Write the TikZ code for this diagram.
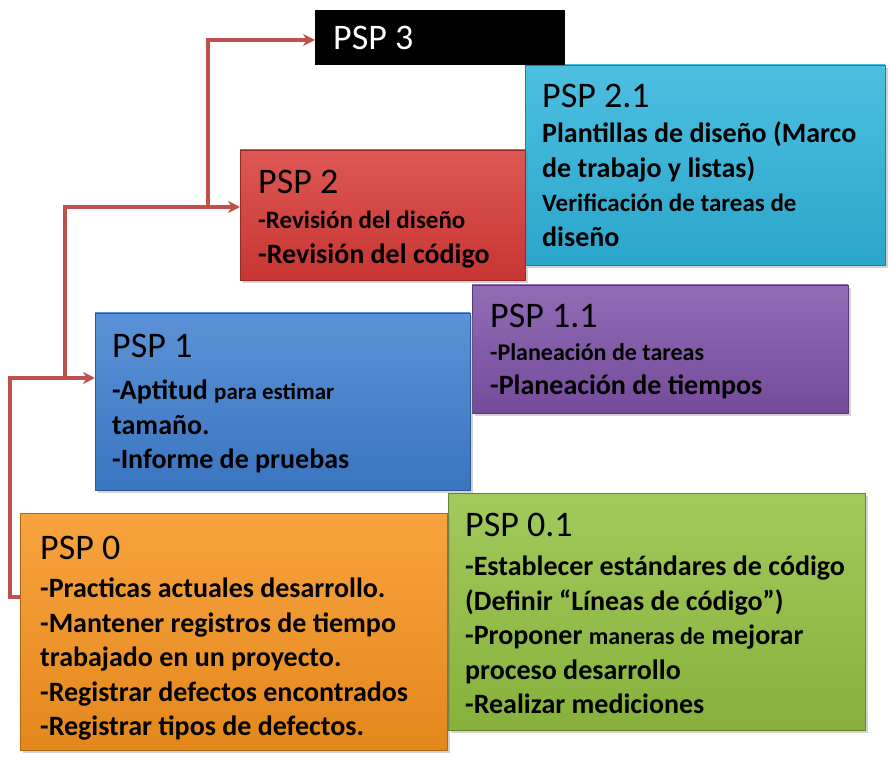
\documentclass[tikz,border=0pt]{standalone}
\usepackage{fontspec}
\setmainfont{Carlito}
\usetikzlibrary{arrows.meta,shadows}
\definecolor{cOr}{HTML}{F7931E}
\definecolor{cGr}{HTML}{92C040}
\definecolor{cBl}{HTML}{3F7FD0}
\definecolor{cPu}{HTML}{7E52A8}
\definecolor{cRe}{HTML}{D83A36}
\definecolor{cCy}{HTML}{2EB4DC}
\definecolor{cLn}{HTML}{C0504D}
\tikzset{
  box/.style={draw=#1!70!black, line width=0.6pt, top color=#1!85!white, bottom color=#1!92!black, drop shadow={shadow xshift=3pt,shadow yshift=-3pt,opacity=0.35}},
  ttl/.style={anchor=north west, text=black, font=\fontsize{36}{36}\selectfont, inner sep=0},
  bod/.style={anchor=north west, text=black, font=\bfseries\fontsize{28}{34.5}\selectfont, align=left, inner sep=0},
  conn/.style={draw=cLn, line width=3.2pt, -{Stealth[length=12pt,width=12pt]}}
}
\begin{document}
\begin{tikzpicture}[x=1pt,y=-1pt]
\useasboundingbox (0,0) rectangle (892,767);
\draw[conn] (20,597) -- (10,597) -- (10,378) -- (95,378);
\draw[conn] (65,378) -- (65,207) -- (240,207);
\draw[conn] (208,207) -- (208,40) -- (315,40);
\filldraw[box=cCy] (525,65) rectangle (885,265);
\filldraw[box=cRe] (240,150) rectangle (525,280);
\fill[black] (315,10) rectangle (565,65);
\filldraw[box=cPu] (472,285) rectangle (848,413);
\filldraw[box=cBl] (95,313) rectangle (470,490);
\filldraw[box=cGr] (448,493) rectangle (865,730);
\filldraw[box=cOr] (20,513) rectangle (447,750);
\node[ttl,text=white] (t3) at (333,26) {PSP 3};
\node[ttl] (t21) at (542,84) {PSP 2.1};
\node[bod] (b21) at (542,122) {Plantillas de diseño (Marco\\de trabajo y listas)\\{\fontsize{25}{34}\selectfont Verificación de tareas de}\\diseño};
\node[ttl] (t2) at (258,170) {PSP 2};
\node[bod] (b2) at (258,211) {{\fontsize{25}{34}\selectfont -Revisión del diseño}\\-Revisión del código};
\node[ttl] (t11) at (490,304) {PSP 1.1};
\node[bod] (b11) at (490,343) {{\fontsize{24}{34}\selectfont -Planeación de tareas}\\-Planeación de tiempos};
\node[ttl] (t1) at (112,334) {PSP 1};
\node[bod] (b1) at (112,380) {-Aptitud {\fontsize{23}{34}\selectfont para estimar}\\tamaño.\\-Informe de pruebas};
\node[ttl] (t01) at (465,513) {PSP 0.1};
\node[bod] (b01) at (465,556) {-Establecer estándares de código\\(Definir “Líneas de código”)\\-Proponer {\fontsize{24}{34}\selectfont maneras de} mejorar\\proceso desarrollo\\-Realizar mediciones};
\node[ttl] (t0) at (40,536) {PSP 0};
\node[bod] (b0) at (40,578) {-Practicas actuales desarrollo.\\-Mantener registros de tiempo\\trabajado en un proyecto.\\-Registrar defectos encontrados\\-Registrar tipos de defectos.};
\end{tikzpicture}
\end{document}
